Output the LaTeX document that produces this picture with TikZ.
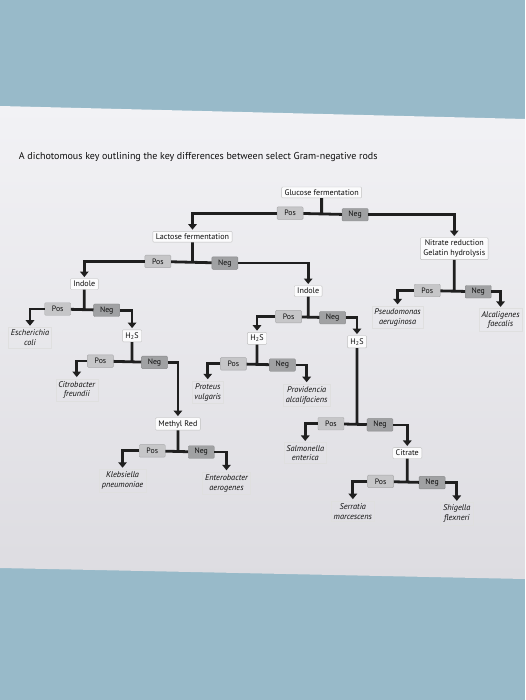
\documentclass[tikz,border=0pt]{standalone}
\usepackage{fontspec}
\setmainfont{PT Sans}
\usepackage{tikz}
\usetikzlibrary{arrows.meta,positioning}
\definecolor{deskblue}{RGB}{152,186,201}
\definecolor{paperhi}{RGB}{242,242,245}
\definecolor{paperlo}{RGB}{221,220,225}
\definecolor{posgray}{RGB}{198,198,200}
\definecolor{neggray}{RGB}{160,161,163}
\tikzstyle{test}=[draw=gray!50,fill=white!70!paperhi,rounded corners=1pt,inner xsep=3pt,inner ysep=2.5pt,font=\fontsize{8.1}{9.5}\selectfont]
\tikzstyle{taxon}=[draw=gray!25,align=center,inner sep=2.5pt,font=\fontsize{8.3}{9.8}\selectfont\itshape]
\tikzstyle{posbox}=[fill=posgray,draw=posgray!85!black,rounded corners=1pt,minimum width=26pt,minimum height=12.5pt,inner sep=1pt,font=\fontsize{7.8}{8}\selectfont]
\tikzstyle{negbox}=[posbox,fill=neggray,draw=neggray!85!black]
\tikzstyle{bar}=[line width=2.8pt,draw=black!88]
\tikzstyle{every edge}=[-{Triangle[width=8.5pt,length=5.5pt]},shorten >=1.5pt,line width=2.8pt,draw=black!88,to path={-| (\tikztotarget)}]

\begin{document}
\begin{tikzpicture}[x=1pt,y=-1pt]
        \useasboundingbox (0,0) rectangle (525,700);
        % Desk and sheet:
        \fill[deskblue] (0,0) rectangle (525,700);
        \shade[top color=paperhi,bottom color=paperlo]
        (0,106) -- (525,119) -- (525,579) -- (0,568) -- cycle;

        \begin{scope}[rotate around={-1.4:(262,340)},text=black!95]
        \node (title) [anchor=west,font=\fontsize{10}{12}\selectfont] at (11,163)
        {A dichotomous key outlining the key differences between select Gram-negative rods};
        % First test:
        \node (gluc) [test] at (318,191) {Glucose fermentation};
        \node (p1) [posbox] at (287,212.5) {Pos};
        \node (n1) [negbox] at (352,212.5) {Neg};
        % Second line:
        \node (lac) [test] at (190,238.5) {Lactose fermentation};
        \node (nit) [test,align=center] at (452,244) {Nitrate reduction\\Gelatin hydrolysis};
        \node (p2) [posbox] at (156,264) {Pos};
        \node (n2) [negbox] at (223,264) {Neg};
        \node (p3) [posbox] at (426,286.5) {Pos};
        \node (n3) [negbox] at (477,286.5) {Neg};
        % Third line:
        \node (indL) [test] at (83,288.5) {Indole};
        \node (indR) [test] at (307,290) {Indole};
        \node (pseu) [taxon] at (397,314) {Pseudomonas\\aeruginosa};
        \node (alc) [taxon] at (500,314) {Alcaligenes\\faecalis};
        \node (p4) [posbox] at (57,314) {Pos};
        \node (n4) [negbox] at (106,314) {Neg};
        \node (p5) [posbox] at (288,316) {Pos};
        \node (n5) [negbox] at (332,316) {Neg};
        % Fourth line:
        \node (ecoli) [taxon] at (30,343.5) {Escherichia\\coli};
        \node (h2sA) [test] at (132,339) {H\textsubscript{2}S};
        \node (h2sB) [test] at (257,338.5) {H\textsubscript{2}S};
        \node (h2sC) [test] at (357,339.5) {H\textsubscript{2}S};
        \node (p6) [posbox] at (101,365) {Pos};
        \node (n6) [negbox] at (155,365) {Neg};
        \node (p7) [posbox] at (234,364.5) {Pos};
        \node (n7) [negbox] at (283,364.5) {Neg};
        % Fifth line:
        \node (citro) [taxon] at (78,394.5) {Citrobacter\\freundii};
        \node (prot) [taxon] at (209,393.5) {Proteus\\vulgaris};
        \node (prov) [taxon] at (308,394) {Providencia\\alcalifaciens};
        \node (p8) [posbox] at (333,422) {Pos};
        \node (n8) [negbox] at (382,422) {Neg};
        \node (mr) [test] at (180,426) {Methyl Red};
        % Sixth line:
        \node (sal) [taxon] at (308,452) {Salmonella\\enterica};
        \node (cit) [test] at (410,449.5) {Citrate};
        \node (p9) [posbox] at (155,453.5) {Pos};
        \node (n9) [negbox] at (204,453.5) {Neg};
        \node (kleb) [taxon] at (126,484) {Klebsiella\\pneumoniae};
        \node (ent) [taxon] at (230,484) {Enterobacter\\aerogenes};
        \node (p10) [posbox] at (384,478.5) {Pos};
        \node (n10) [negbox] at (435.5,478.5) {Neg};
        \node (ser) [taxon] at (357,509) {Serratia\\marcescens};
        \node (shig) [taxon] at (461,509) {Shigella\\flexneri};
        \end{scope}

        % Stems and bars:
        \foreach \t/\p/\n in {gluc/p1/n1,lac/p2/n2,nit/p3/n3,indL/p4/n4,indR/p5/n5,
          h2sA/p6/n6,h2sB/p7/n7,h2sC/p8/n8,mr/p9/n9,cit/p10/n10}
          \draw[bar] (\t) -- (\t |- \p) (\p) -- (\n);

        \path
        (p1) edge (lac)
        (n1) edge (nit)
        (p2) edge (indL)
        (n2) edge (indR)
        (p3) edge (pseu)
        (n3) edge (alc);

        \path
        (p4) edge (ecoli)
        (n4) edge (h2sA)
        (p5) edge (h2sB)
        (n5) edge (h2sC)
        (p6) edge (citro)
        (n6) edge (mr)
        (p7) edge (prot)
        (n7) edge (prov)
        (p8) edge (sal)
        (n8) edge (cit)
        (p9) edge (kleb)
        (n9) edge (ent)
        (p10) edge (ser)
        (n10) edge (shig);
\end{tikzpicture}
\end{document}
